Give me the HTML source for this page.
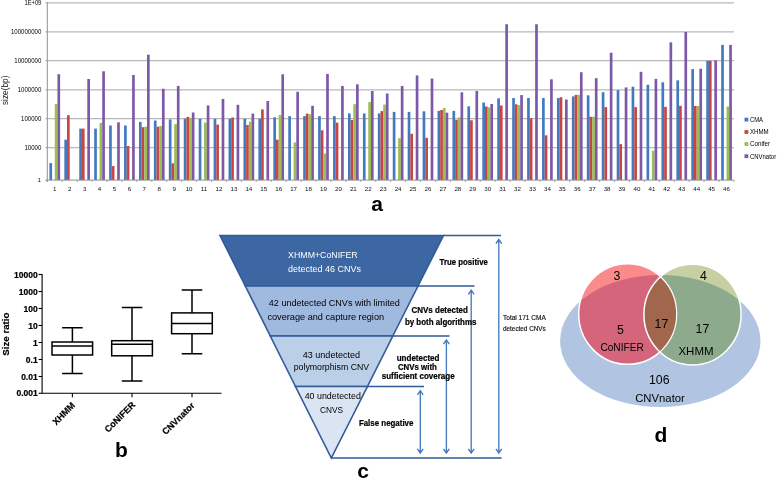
<!DOCTYPE html>
<html><head><meta charset="utf-8"><title>figure</title>
<style>
html,body{margin:0;padding:0;background:#fff;}
body{width:778px;height:479px;overflow:hidden;}
svg{display:block;}
text{font-family:"Liberation Sans",sans-serif;}
.b{font-weight:bold;}
.s{stroke:#000;stroke-width:0.22px;}
</style></head><body>
<svg width="778" height="479" viewBox="0 0 778 479">
<rect width="778" height="479" fill="#fff"/>
<g id="panel-a">
<line x1="45.3" y1="2.8" x2="734.0" y2="2.8" stroke="#b9b9b9" stroke-width="1.25"/>
<text x="24.45" y="5.25" font-size="6.6" fill="#000" textLength="16.9" lengthAdjust="spacingAndGlyphs">1E+09</text>
<line x1="45.3" y1="31.8" x2="734.0" y2="31.8" stroke="#b9b9b9" stroke-width="1.25"/>
<text x="10.97" y="34.25" font-size="6.6" fill="#000" textLength="30.3" lengthAdjust="spacingAndGlyphs">100000000</text>
<line x1="45.3" y1="60.7" x2="734.0" y2="60.7" stroke="#b9b9b9" stroke-width="1.25"/>
<text x="14.34" y="63.150000000000006" font-size="6.6" fill="#000" textLength="27.0" lengthAdjust="spacingAndGlyphs">10000000</text>
<line x1="45.3" y1="89.8" x2="734.0" y2="89.8" stroke="#b9b9b9" stroke-width="1.25"/>
<text x="17.71" y="92.25" font-size="6.6" fill="#000" textLength="23.6" lengthAdjust="spacingAndGlyphs">1000000</text>
<line x1="45.3" y1="118.6" x2="734.0" y2="118.6" stroke="#b9b9b9" stroke-width="1.25"/>
<text x="21.08" y="121.05" font-size="6.6" fill="#000" textLength="20.2" lengthAdjust="spacingAndGlyphs">100000</text>
<line x1="45.3" y1="147.5" x2="734.0" y2="147.5" stroke="#b9b9b9" stroke-width="1.25"/>
<text x="24.45" y="149.95" font-size="6.6" fill="#000" textLength="16.9" lengthAdjust="spacingAndGlyphs">10000</text>
<text x="41" y="182.4" font-size="6.2" text-anchor="end" fill="#111">1</text>
<rect x="49.40" y="163.1" width="2.68" height="17.0" fill="#437ABF"/>
<rect x="54.76" y="104.0" width="2.68" height="76.1" fill="#9CBD52"/>
<rect x="57.44" y="74.2" width="2.68" height="105.9" fill="#7C59A7"/>
<rect x="64.33" y="139.7" width="2.68" height="40.4" fill="#437ABF"/>
<rect x="67.01" y="115.2" width="2.68" height="64.9" fill="#C74643"/>
<rect x="79.26" y="128.6" width="2.68" height="51.5" fill="#437ABF"/>
<rect x="81.94" y="128.6" width="2.68" height="51.5" fill="#C74643"/>
<rect x="87.30" y="79.0" width="2.68" height="101.1" fill="#7C59A7"/>
<rect x="94.19" y="128.6" width="2.68" height="51.5" fill="#437ABF"/>
<rect x="99.55" y="123.0" width="2.68" height="57.1" fill="#9CBD52"/>
<rect x="102.23" y="71.3" width="2.68" height="108.8" fill="#7C59A7"/>
<rect x="109.12" y="125.5" width="2.68" height="54.6" fill="#437ABF"/>
<rect x="111.80" y="166.0" width="2.68" height="14.1" fill="#C74643"/>
<rect x="117.16" y="122.3" width="2.68" height="57.8" fill="#7C59A7"/>
<rect x="124.05" y="125.5" width="2.68" height="54.6" fill="#437ABF"/>
<rect x="126.73" y="146.0" width="2.68" height="34.1" fill="#C74643"/>
<rect x="132.09" y="75.0" width="2.68" height="105.1" fill="#7C59A7"/>
<rect x="138.97" y="121.9" width="2.68" height="58.2" fill="#437ABF"/>
<rect x="141.65" y="127.2" width="2.68" height="52.9" fill="#C74643"/>
<rect x="144.33" y="126.7" width="2.68" height="53.4" fill="#9CBD52"/>
<rect x="147.01" y="54.7" width="2.68" height="125.4" fill="#7C59A7"/>
<rect x="153.90" y="120.5" width="2.68" height="59.6" fill="#437ABF"/>
<rect x="156.58" y="126.7" width="2.68" height="53.4" fill="#C74643"/>
<rect x="159.26" y="126.1" width="2.68" height="54.0" fill="#9CBD52"/>
<rect x="161.94" y="88.8" width="2.68" height="91.3" fill="#7C59A7"/>
<rect x="168.83" y="119.4" width="2.68" height="60.7" fill="#437ABF"/>
<rect x="171.51" y="163.3" width="2.68" height="16.8" fill="#C74643"/>
<rect x="174.19" y="124.2" width="2.68" height="55.9" fill="#9CBD52"/>
<rect x="176.87" y="85.9" width="2.68" height="94.2" fill="#7C59A7"/>
<rect x="183.76" y="118.8" width="2.68" height="61.3" fill="#437ABF"/>
<rect x="186.44" y="116.9" width="2.68" height="63.2" fill="#C74643"/>
<rect x="189.12" y="117.8" width="2.68" height="62.3" fill="#9CBD52"/>
<rect x="191.80" y="112.5" width="2.68" height="67.6" fill="#7C59A7"/>
<rect x="198.69" y="118.8" width="2.68" height="61.3" fill="#437ABF"/>
<rect x="204.05" y="122.6" width="2.68" height="57.5" fill="#9CBD52"/>
<rect x="206.73" y="105.4" width="2.68" height="74.7" fill="#7C59A7"/>
<rect x="213.61" y="118.8" width="2.68" height="61.3" fill="#437ABF"/>
<rect x="216.29" y="124.6" width="2.68" height="55.5" fill="#C74643"/>
<rect x="221.65" y="98.9" width="2.68" height="81.2" fill="#7C59A7"/>
<rect x="228.54" y="118.8" width="2.68" height="61.3" fill="#437ABF"/>
<rect x="231.22" y="117.5" width="2.68" height="62.6" fill="#C74643"/>
<rect x="236.58" y="104.8" width="2.68" height="75.3" fill="#7C59A7"/>
<rect x="243.47" y="118.8" width="2.68" height="61.3" fill="#437ABF"/>
<rect x="246.15" y="125.0" width="2.68" height="55.1" fill="#C74643"/>
<rect x="248.83" y="121.7" width="2.68" height="58.4" fill="#9CBD52"/>
<rect x="251.51" y="113.6" width="2.68" height="66.5" fill="#7C59A7"/>
<rect x="258.40" y="118.8" width="2.68" height="61.3" fill="#437ABF"/>
<rect x="261.08" y="109.4" width="2.68" height="70.7" fill="#C74643"/>
<rect x="266.44" y="101.0" width="2.68" height="79.1" fill="#7C59A7"/>
<rect x="273.33" y="117.3" width="2.68" height="62.8" fill="#437ABF"/>
<rect x="276.01" y="139.7" width="2.68" height="40.4" fill="#C74643"/>
<rect x="278.69" y="115.0" width="2.68" height="65.1" fill="#9CBD52"/>
<rect x="281.37" y="74.3" width="2.68" height="105.8" fill="#7C59A7"/>
<rect x="288.26" y="116.1" width="2.68" height="64.0" fill="#437ABF"/>
<rect x="293.62" y="142.4" width="2.68" height="37.7" fill="#9CBD52"/>
<rect x="296.30" y="91.8" width="2.68" height="88.3" fill="#7C59A7"/>
<rect x="303.18" y="116.1" width="2.68" height="64.0" fill="#437ABF"/>
<rect x="305.86" y="113.6" width="2.68" height="66.5" fill="#C74643"/>
<rect x="308.54" y="114.2" width="2.68" height="65.9" fill="#9CBD52"/>
<rect x="311.22" y="105.8" width="2.68" height="74.3" fill="#7C59A7"/>
<rect x="318.11" y="116.1" width="2.68" height="64.0" fill="#437ABF"/>
<rect x="320.79" y="130.3" width="2.68" height="49.8" fill="#C74643"/>
<rect x="323.47" y="153.5" width="2.68" height="26.6" fill="#9CBD52"/>
<rect x="326.15" y="73.9" width="2.68" height="106.2" fill="#7C59A7"/>
<rect x="333.04" y="116.1" width="2.68" height="64.0" fill="#437ABF"/>
<rect x="335.72" y="122.6" width="2.68" height="57.5" fill="#C74643"/>
<rect x="341.08" y="86.0" width="2.68" height="94.1" fill="#7C59A7"/>
<rect x="347.97" y="113.4" width="2.68" height="66.7" fill="#437ABF"/>
<rect x="350.65" y="120.0" width="2.68" height="60.1" fill="#C74643"/>
<rect x="353.33" y="104.2" width="2.68" height="75.9" fill="#9CBD52"/>
<rect x="356.01" y="84.3" width="2.68" height="95.8" fill="#7C59A7"/>
<rect x="362.90" y="113.4" width="2.68" height="66.7" fill="#437ABF"/>
<rect x="368.26" y="102.1" width="2.68" height="78.0" fill="#9CBD52"/>
<rect x="370.94" y="91.0" width="2.68" height="89.1" fill="#7C59A7"/>
<rect x="377.83" y="113.4" width="2.68" height="66.7" fill="#437ABF"/>
<rect x="380.51" y="111.1" width="2.68" height="69.0" fill="#C74643"/>
<rect x="383.19" y="104.6" width="2.68" height="75.5" fill="#9CBD52"/>
<rect x="385.87" y="93.5" width="2.68" height="86.6" fill="#7C59A7"/>
<rect x="392.75" y="111.9" width="2.68" height="68.2" fill="#437ABF"/>
<rect x="398.11" y="138.2" width="2.68" height="41.9" fill="#9CBD52"/>
<rect x="400.79" y="86.0" width="2.68" height="94.1" fill="#7C59A7"/>
<rect x="407.68" y="111.9" width="2.68" height="68.2" fill="#437ABF"/>
<rect x="410.36" y="133.8" width="2.68" height="46.3" fill="#C74643"/>
<rect x="415.72" y="75.4" width="2.68" height="104.7" fill="#7C59A7"/>
<rect x="422.61" y="111.3" width="2.68" height="68.8" fill="#437ABF"/>
<rect x="425.29" y="137.8" width="2.68" height="42.3" fill="#C74643"/>
<rect x="430.65" y="78.5" width="2.68" height="101.6" fill="#7C59A7"/>
<rect x="437.54" y="110.9" width="2.68" height="69.2" fill="#437ABF"/>
<rect x="440.22" y="110.0" width="2.68" height="70.1" fill="#C74643"/>
<rect x="442.90" y="107.9" width="2.68" height="72.2" fill="#9CBD52"/>
<rect x="445.58" y="112.7" width="2.68" height="67.4" fill="#7C59A7"/>
<rect x="452.47" y="110.9" width="2.68" height="69.2" fill="#437ABF"/>
<rect x="455.15" y="119.8" width="2.68" height="60.3" fill="#C74643"/>
<rect x="457.83" y="117.3" width="2.68" height="62.8" fill="#9CBD52"/>
<rect x="460.51" y="92.3" width="2.68" height="87.8" fill="#7C59A7"/>
<rect x="467.40" y="106.3" width="2.68" height="73.8" fill="#437ABF"/>
<rect x="470.08" y="120.3" width="2.68" height="59.8" fill="#C74643"/>
<rect x="475.44" y="91.0" width="2.68" height="89.1" fill="#7C59A7"/>
<rect x="482.32" y="102.5" width="2.68" height="77.6" fill="#437ABF"/>
<rect x="485.00" y="106.5" width="2.68" height="73.6" fill="#C74643"/>
<rect x="487.68" y="107.3" width="2.68" height="72.8" fill="#9CBD52"/>
<rect x="490.36" y="104.0" width="2.68" height="76.1" fill="#7C59A7"/>
<rect x="497.25" y="98.3" width="2.68" height="81.8" fill="#437ABF"/>
<rect x="499.93" y="105.5" width="2.68" height="74.6" fill="#C74643"/>
<rect x="505.29" y="24.2" width="2.68" height="155.9" fill="#7C59A7"/>
<rect x="512.18" y="98.0" width="2.68" height="82.1" fill="#437ABF"/>
<rect x="514.86" y="104.3" width="2.68" height="75.8" fill="#C74643"/>
<rect x="517.54" y="105.1" width="2.68" height="75.0" fill="#9CBD52"/>
<rect x="520.22" y="95.1" width="2.68" height="85.0" fill="#7C59A7"/>
<rect x="527.11" y="98.0" width="2.68" height="82.1" fill="#437ABF"/>
<rect x="529.79" y="118.3" width="2.68" height="61.8" fill="#C74643"/>
<rect x="535.15" y="24.2" width="2.68" height="155.9" fill="#7C59A7"/>
<rect x="542.04" y="98.0" width="2.68" height="82.1" fill="#437ABF"/>
<rect x="544.72" y="135.3" width="2.68" height="44.8" fill="#C74643"/>
<rect x="550.08" y="79.3" width="2.68" height="100.8" fill="#7C59A7"/>
<rect x="556.97" y="98.0" width="2.68" height="82.1" fill="#437ABF"/>
<rect x="559.64" y="97.2" width="2.68" height="82.9" fill="#C74643"/>
<rect x="565.00" y="99.5" width="2.68" height="80.6" fill="#7C59A7"/>
<rect x="571.89" y="96.4" width="2.68" height="83.7" fill="#437ABF"/>
<rect x="574.57" y="94.9" width="2.68" height="85.2" fill="#C74643"/>
<rect x="577.25" y="94.9" width="2.68" height="85.2" fill="#9CBD52"/>
<rect x="579.93" y="72.2" width="2.68" height="107.9" fill="#7C59A7"/>
<rect x="586.82" y="95.3" width="2.68" height="84.8" fill="#437ABF"/>
<rect x="589.50" y="116.8" width="2.68" height="63.3" fill="#C74643"/>
<rect x="592.18" y="116.8" width="2.68" height="63.3" fill="#9CBD52"/>
<rect x="594.86" y="78.2" width="2.68" height="101.9" fill="#7C59A7"/>
<rect x="601.75" y="92.2" width="2.68" height="87.9" fill="#437ABF"/>
<rect x="604.43" y="107.1" width="2.68" height="73.0" fill="#C74643"/>
<rect x="609.79" y="52.7" width="2.68" height="127.4" fill="#7C59A7"/>
<rect x="616.68" y="90.1" width="2.68" height="90.0" fill="#437ABF"/>
<rect x="619.36" y="144.1" width="2.68" height="36.0" fill="#C74643"/>
<rect x="624.72" y="87.4" width="2.68" height="92.7" fill="#7C59A7"/>
<rect x="631.61" y="86.7" width="2.68" height="93.4" fill="#437ABF"/>
<rect x="634.29" y="107.1" width="2.68" height="73.0" fill="#C74643"/>
<rect x="639.65" y="71.8" width="2.68" height="108.3" fill="#7C59A7"/>
<rect x="646.53" y="84.8" width="2.68" height="95.3" fill="#437ABF"/>
<rect x="651.89" y="150.7" width="2.68" height="29.4" fill="#9CBD52"/>
<rect x="654.57" y="78.9" width="2.68" height="101.2" fill="#7C59A7"/>
<rect x="661.46" y="82.3" width="2.68" height="97.8" fill="#437ABF"/>
<rect x="664.14" y="106.9" width="2.68" height="73.2" fill="#C74643"/>
<rect x="669.50" y="42.4" width="2.68" height="137.7" fill="#7C59A7"/>
<rect x="676.39" y="80.4" width="2.68" height="99.7" fill="#437ABF"/>
<rect x="679.07" y="105.8" width="2.68" height="74.3" fill="#C74643"/>
<rect x="684.43" y="31.9" width="2.68" height="148.2" fill="#7C59A7"/>
<rect x="691.32" y="69.1" width="2.68" height="111.0" fill="#437ABF"/>
<rect x="694.00" y="106.0" width="2.68" height="74.1" fill="#C74643"/>
<rect x="696.68" y="106.0" width="2.68" height="74.1" fill="#9CBD52"/>
<rect x="699.36" y="68.7" width="2.68" height="111.4" fill="#7C59A7"/>
<rect x="706.25" y="60.8" width="2.68" height="119.3" fill="#437ABF"/>
<rect x="708.93" y="60.8" width="2.68" height="119.3" fill="#C74643"/>
<rect x="714.29" y="60.3" width="2.68" height="119.8" fill="#7C59A7"/>
<rect x="721.18" y="44.9" width="2.68" height="135.2" fill="#437ABF"/>
<rect x="726.54" y="106.5" width="2.68" height="73.6" fill="#9CBD52"/>
<rect x="729.22" y="44.9" width="2.68" height="135.2" fill="#7C59A7"/>
<line x1="47.3" y1="2.3" x2="47.3" y2="181.9" stroke="#909090" stroke-width="1"/>
<line x1="45.3" y1="180.1" x2="734.0" y2="180.1" stroke="#909090" stroke-width="1"/>
<line x1="47.30" y1="180.1" x2="47.30" y2="182.0" stroke="#8c8c8c" stroke-width="0.8"/>
<line x1="62.23" y1="180.1" x2="62.23" y2="182.0" stroke="#8c8c8c" stroke-width="0.8"/>
<line x1="77.16" y1="180.1" x2="77.16" y2="182.0" stroke="#8c8c8c" stroke-width="0.8"/>
<line x1="92.08" y1="180.1" x2="92.08" y2="182.0" stroke="#8c8c8c" stroke-width="0.8"/>
<line x1="107.01" y1="180.1" x2="107.01" y2="182.0" stroke="#8c8c8c" stroke-width="0.8"/>
<line x1="121.94" y1="180.1" x2="121.94" y2="182.0" stroke="#8c8c8c" stroke-width="0.8"/>
<line x1="136.87" y1="180.1" x2="136.87" y2="182.0" stroke="#8c8c8c" stroke-width="0.8"/>
<line x1="151.80" y1="180.1" x2="151.80" y2="182.0" stroke="#8c8c8c" stroke-width="0.8"/>
<line x1="166.73" y1="180.1" x2="166.73" y2="182.0" stroke="#8c8c8c" stroke-width="0.8"/>
<line x1="181.65" y1="180.1" x2="181.65" y2="182.0" stroke="#8c8c8c" stroke-width="0.8"/>
<line x1="196.58" y1="180.1" x2="196.58" y2="182.0" stroke="#8c8c8c" stroke-width="0.8"/>
<line x1="211.51" y1="180.1" x2="211.51" y2="182.0" stroke="#8c8c8c" stroke-width="0.8"/>
<line x1="226.44" y1="180.1" x2="226.44" y2="182.0" stroke="#8c8c8c" stroke-width="0.8"/>
<line x1="241.37" y1="180.1" x2="241.37" y2="182.0" stroke="#8c8c8c" stroke-width="0.8"/>
<line x1="256.30" y1="180.1" x2="256.30" y2="182.0" stroke="#8c8c8c" stroke-width="0.8"/>
<line x1="271.22" y1="180.1" x2="271.22" y2="182.0" stroke="#8c8c8c" stroke-width="0.8"/>
<line x1="286.15" y1="180.1" x2="286.15" y2="182.0" stroke="#8c8c8c" stroke-width="0.8"/>
<line x1="301.08" y1="180.1" x2="301.08" y2="182.0" stroke="#8c8c8c" stroke-width="0.8"/>
<line x1="316.01" y1="180.1" x2="316.01" y2="182.0" stroke="#8c8c8c" stroke-width="0.8"/>
<line x1="330.94" y1="180.1" x2="330.94" y2="182.0" stroke="#8c8c8c" stroke-width="0.8"/>
<line x1="345.87" y1="180.1" x2="345.87" y2="182.0" stroke="#8c8c8c" stroke-width="0.8"/>
<line x1="360.79" y1="180.1" x2="360.79" y2="182.0" stroke="#8c8c8c" stroke-width="0.8"/>
<line x1="375.72" y1="180.1" x2="375.72" y2="182.0" stroke="#8c8c8c" stroke-width="0.8"/>
<line x1="390.65" y1="180.1" x2="390.65" y2="182.0" stroke="#8c8c8c" stroke-width="0.8"/>
<line x1="405.58" y1="180.1" x2="405.58" y2="182.0" stroke="#8c8c8c" stroke-width="0.8"/>
<line x1="420.51" y1="180.1" x2="420.51" y2="182.0" stroke="#8c8c8c" stroke-width="0.8"/>
<line x1="435.43" y1="180.1" x2="435.43" y2="182.0" stroke="#8c8c8c" stroke-width="0.8"/>
<line x1="450.36" y1="180.1" x2="450.36" y2="182.0" stroke="#8c8c8c" stroke-width="0.8"/>
<line x1="465.29" y1="180.1" x2="465.29" y2="182.0" stroke="#8c8c8c" stroke-width="0.8"/>
<line x1="480.22" y1="180.1" x2="480.22" y2="182.0" stroke="#8c8c8c" stroke-width="0.8"/>
<line x1="495.15" y1="180.1" x2="495.15" y2="182.0" stroke="#8c8c8c" stroke-width="0.8"/>
<line x1="510.08" y1="180.1" x2="510.08" y2="182.0" stroke="#8c8c8c" stroke-width="0.8"/>
<line x1="525.00" y1="180.1" x2="525.00" y2="182.0" stroke="#8c8c8c" stroke-width="0.8"/>
<line x1="539.93" y1="180.1" x2="539.93" y2="182.0" stroke="#8c8c8c" stroke-width="0.8"/>
<line x1="554.86" y1="180.1" x2="554.86" y2="182.0" stroke="#8c8c8c" stroke-width="0.8"/>
<line x1="569.79" y1="180.1" x2="569.79" y2="182.0" stroke="#8c8c8c" stroke-width="0.8"/>
<line x1="584.72" y1="180.1" x2="584.72" y2="182.0" stroke="#8c8c8c" stroke-width="0.8"/>
<line x1="599.65" y1="180.1" x2="599.65" y2="182.0" stroke="#8c8c8c" stroke-width="0.8"/>
<line x1="614.57" y1="180.1" x2="614.57" y2="182.0" stroke="#8c8c8c" stroke-width="0.8"/>
<line x1="629.50" y1="180.1" x2="629.50" y2="182.0" stroke="#8c8c8c" stroke-width="0.8"/>
<line x1="644.43" y1="180.1" x2="644.43" y2="182.0" stroke="#8c8c8c" stroke-width="0.8"/>
<line x1="659.36" y1="180.1" x2="659.36" y2="182.0" stroke="#8c8c8c" stroke-width="0.8"/>
<line x1="674.29" y1="180.1" x2="674.29" y2="182.0" stroke="#8c8c8c" stroke-width="0.8"/>
<line x1="689.22" y1="180.1" x2="689.22" y2="182.0" stroke="#8c8c8c" stroke-width="0.8"/>
<line x1="704.14" y1="180.1" x2="704.14" y2="182.0" stroke="#8c8c8c" stroke-width="0.8"/>
<line x1="719.07" y1="180.1" x2="719.07" y2="182.0" stroke="#8c8c8c" stroke-width="0.8"/>
<line x1="734.00" y1="180.1" x2="734.00" y2="182.0" stroke="#8c8c8c" stroke-width="0.8"/>
<text x="54.76" y="191.4" font-size="6.2" text-anchor="middle" fill="#111">1</text>
<text x="69.69" y="191.4" font-size="6.2" text-anchor="middle" fill="#111">2</text>
<text x="84.62" y="191.4" font-size="6.2" text-anchor="middle" fill="#111">3</text>
<text x="99.55" y="191.4" font-size="6.2" text-anchor="middle" fill="#111">4</text>
<text x="114.48" y="191.4" font-size="6.2" text-anchor="middle" fill="#111">5</text>
<text x="129.41" y="191.4" font-size="6.2" text-anchor="middle" fill="#111">6</text>
<text x="144.33" y="191.4" font-size="6.2" text-anchor="middle" fill="#111">7</text>
<text x="159.26" y="191.4" font-size="6.2" text-anchor="middle" fill="#111">8</text>
<text x="174.19" y="191.4" font-size="6.2" text-anchor="middle" fill="#111">9</text>
<text x="189.12" y="191.4" font-size="6.2" text-anchor="middle" fill="#111">10</text>
<text x="204.05" y="191.4" font-size="6.2" text-anchor="middle" fill="#111">11</text>
<text x="218.98" y="191.4" font-size="6.2" text-anchor="middle" fill="#111">12</text>
<text x="233.90" y="191.4" font-size="6.2" text-anchor="middle" fill="#111">13</text>
<text x="248.83" y="191.4" font-size="6.2" text-anchor="middle" fill="#111">14</text>
<text x="263.76" y="191.4" font-size="6.2" text-anchor="middle" fill="#111">15</text>
<text x="278.69" y="191.4" font-size="6.2" text-anchor="middle" fill="#111">16</text>
<text x="293.62" y="191.4" font-size="6.2" text-anchor="middle" fill="#111">17</text>
<text x="308.54" y="191.4" font-size="6.2" text-anchor="middle" fill="#111">18</text>
<text x="323.47" y="191.4" font-size="6.2" text-anchor="middle" fill="#111">19</text>
<text x="338.40" y="191.4" font-size="6.2" text-anchor="middle" fill="#111">20</text>
<text x="353.33" y="191.4" font-size="6.2" text-anchor="middle" fill="#111">21</text>
<text x="368.26" y="191.4" font-size="6.2" text-anchor="middle" fill="#111">22</text>
<text x="383.19" y="191.4" font-size="6.2" text-anchor="middle" fill="#111">23</text>
<text x="398.11" y="191.4" font-size="6.2" text-anchor="middle" fill="#111">24</text>
<text x="413.04" y="191.4" font-size="6.2" text-anchor="middle" fill="#111">25</text>
<text x="427.97" y="191.4" font-size="6.2" text-anchor="middle" fill="#111">26</text>
<text x="442.90" y="191.4" font-size="6.2" text-anchor="middle" fill="#111">27</text>
<text x="457.83" y="191.4" font-size="6.2" text-anchor="middle" fill="#111">28</text>
<text x="472.76" y="191.4" font-size="6.2" text-anchor="middle" fill="#111">29</text>
<text x="487.68" y="191.4" font-size="6.2" text-anchor="middle" fill="#111">30</text>
<text x="502.61" y="191.4" font-size="6.2" text-anchor="middle" fill="#111">31</text>
<text x="517.54" y="191.4" font-size="6.2" text-anchor="middle" fill="#111">32</text>
<text x="532.47" y="191.4" font-size="6.2" text-anchor="middle" fill="#111">33</text>
<text x="547.40" y="191.4" font-size="6.2" text-anchor="middle" fill="#111">34</text>
<text x="562.32" y="191.4" font-size="6.2" text-anchor="middle" fill="#111">35</text>
<text x="577.25" y="191.4" font-size="6.2" text-anchor="middle" fill="#111">36</text>
<text x="592.18" y="191.4" font-size="6.2" text-anchor="middle" fill="#111">37</text>
<text x="607.11" y="191.4" font-size="6.2" text-anchor="middle" fill="#111">38</text>
<text x="622.04" y="191.4" font-size="6.2" text-anchor="middle" fill="#111">39</text>
<text x="636.97" y="191.4" font-size="6.2" text-anchor="middle" fill="#111">40</text>
<text x="651.89" y="191.4" font-size="6.2" text-anchor="middle" fill="#111">41</text>
<text x="666.82" y="191.4" font-size="6.2" text-anchor="middle" fill="#111">42</text>
<text x="681.75" y="191.4" font-size="6.2" text-anchor="middle" fill="#111">43</text>
<text x="696.68" y="191.4" font-size="6.2" text-anchor="middle" fill="#111">44</text>
<text x="711.61" y="191.4" font-size="6.2" text-anchor="middle" fill="#111">45</text>
<text x="726.54" y="191.4" font-size="6.2" text-anchor="middle" fill="#111">46</text>
<text transform="translate(8.3,90.3) rotate(-90)" font-size="8.3" text-anchor="middle" fill="#111">size(bp)</text>
<rect x="744.5" y="117.69999999999999" width="3.8" height="3.8" fill="#437ABF"/>
<text x="749.9" y="121.89999999999999" font-size="6.7" fill="#000" textLength="13.1" lengthAdjust="spacingAndGlyphs">CMA</text>
<rect x="744.5" y="130.1" width="3.8" height="3.8" fill="#C74643"/>
<text x="749.9" y="134.3" font-size="6.7" fill="#000" textLength="18.7" lengthAdjust="spacingAndGlyphs">XHMM</text>
<rect x="744.5" y="142.1" width="3.8" height="3.8" fill="#9CBD52"/>
<text x="749.9" y="146.3" font-size="6.7" fill="#000" textLength="20.2" lengthAdjust="spacingAndGlyphs">Conifer</text>
<rect x="744.5" y="154.29999999999998" width="3.8" height="3.8" fill="#7C59A7"/>
<text x="749.9" y="158.5" font-size="6.7" fill="#000" textLength="26.3" lengthAdjust="spacingAndGlyphs">CNVnator</text>
<text class="b" x="377.2" y="211" font-size="21" text-anchor="middle">a</text>
</g>
<g id="panel-b" stroke-linecap="butt">
<path d="M42.1 273.9 V393.2 H221.5" fill="none" stroke="#000" stroke-width="1.1"/>
<line x1="38.6" y1="274.5" x2="42.1" y2="274.5" stroke="#000" stroke-width="1.1"/>
<text class="b s" x="37.7" y="277.55" font-size="8.5" text-anchor="end">10000</text>
<line x1="38.6" y1="291.5" x2="42.1" y2="291.5" stroke="#000" stroke-width="1.1"/>
<text class="b s" x="37.7" y="294.55" font-size="8.5" text-anchor="end">1000</text>
<line x1="38.6" y1="308.5" x2="42.1" y2="308.5" stroke="#000" stroke-width="1.1"/>
<text class="b s" x="37.7" y="311.55" font-size="8.5" text-anchor="end">100</text>
<line x1="38.6" y1="325.5" x2="42.1" y2="325.5" stroke="#000" stroke-width="1.1"/>
<text class="b s" x="37.7" y="328.55" font-size="8.5" text-anchor="end">10</text>
<line x1="38.6" y1="342.5" x2="42.1" y2="342.5" stroke="#000" stroke-width="1.1"/>
<text class="b s" x="37.7" y="345.55" font-size="8.5" text-anchor="end">1</text>
<line x1="38.6" y1="359.5" x2="42.1" y2="359.5" stroke="#000" stroke-width="1.1"/>
<text class="b s" x="37.7" y="362.55" font-size="8.5" text-anchor="end">0.1</text>
<line x1="38.6" y1="376.5" x2="42.1" y2="376.5" stroke="#000" stroke-width="1.1"/>
<text class="b s" x="37.7" y="379.55" font-size="8.5" text-anchor="end">0.01</text>
<line x1="38.6" y1="393.3" x2="42.1" y2="393.3" stroke="#000" stroke-width="1.1"/>
<text class="b s" x="37.7" y="396.35" font-size="8.5" text-anchor="end">0.001</text>
<line x1="72.4" y1="393.2" x2="72.4" y2="397.2" stroke="#000" stroke-width="1.1"/>
<line x1="132" y1="393.2" x2="132" y2="397.2" stroke="#000" stroke-width="1.1"/>
<line x1="192" y1="393.2" x2="192" y2="397.2" stroke="#000" stroke-width="1.1"/>
<g stroke="#000" stroke-width="1.5" fill="none"><path d="M72.4 327.8 V342 M72.4 355 V373.6 M62.1 327.8 H82.7 M62.1 373.6 H82.7 M52.0 346 H92.6"/><rect x="52.0" y="342" width="40.6" height="13.0" fill="#fff"/><path d="M52.0 346 H92.6"/></g>
<g stroke="#000" stroke-width="1.5" fill="none"><path d="M132 307.5 V340.7 M132 355.8 V381 M121.8 307.5 H142.3 M121.8 381 H142.3 M111.7 344.3 H152.4"/><rect x="111.7" y="340.7" width="40.7" height="15.1" fill="#fff"/><path d="M111.7 344.3 H152.4"/></g>
<g stroke="#000" stroke-width="1.5" fill="none"><path d="M192 290 V312.9 M192 333.7 V353.8 M181.7 290 H202.3 M181.7 353.8 H202.3 M171.6 323.4 H212.3"/><rect x="171.6" y="312.9" width="40.7" height="20.8" fill="#fff"/><path d="M171.6 323.4 H212.3"/></g>
<text class="b s" transform="translate(75.6,406) rotate(-45)" font-size="9" text-anchor="end">XHMM</text>
<text class="b s" transform="translate(135.8,405.3) rotate(-45)" font-size="9" text-anchor="end">CoNIFER</text>
<text class="b s" transform="translate(195.2,406) rotate(-45)" font-size="9" text-anchor="end">CNVnator</text>
<text class="b s" transform="translate(8.7,334.1) rotate(-90)" font-size="9.7" text-anchor="middle">Size ratio</text>
<text class="b" x="121.3" y="457" font-size="21" text-anchor="middle">b</text>
</g>
<g id="panel-c">
<polygon points="220.0,235.5 443.5,235.5 418.0,286.0 245.3,286.0" fill="#3C67A3" stroke="#315B98" stroke-width="1.6" stroke-linejoin="miter"/>
<polygon points="245.3,286.0 418.0,286.0 392.8,336.0 270.3,336.0" fill="#9FB9DF" stroke="#315B98" stroke-width="1.6" stroke-linejoin="miter"/>
<polygon points="270.3,336.0 392.8,336.0 367.4,386.5 295.5,386.5" fill="#BCCFE9" stroke="#315B98" stroke-width="1.6" stroke-linejoin="miter"/>
<polygon points="295.5,386.5 367.4,386.5 331.3,458.0 331.3,458.0" fill="#DAE4F2" stroke="#315B98" stroke-width="1.6" stroke-linejoin="miter"/>
<path d="M443.5 235.5 H501 M418.0 286.0 H474.5 M392.8 336.0 H449.5 M367.4 386.5 H424 M331.3 458 H501.6" stroke="#315B98" stroke-width="1.5" fill="none"/>
<path d="M420.3 390.6 V453 M417.40000000000003 394.8 L420.3 390.6 L423.2 394.8 M417.40000000000003 448.8 L420.3 453 L423.2 448.8" stroke="#457ABD" stroke-width="1.35" fill="none"/>
<path d="M446.4 340.0 V453 M443.5 344.2 L446.4 340.0 L449.29999999999995 344.2 M443.5 448.8 L446.4 453 L449.29999999999995 448.8" stroke="#457ABD" stroke-width="1.35" fill="none"/>
<path d="M471.2 290.1 V453 M468.3 294.3 L471.2 290.1 L474.09999999999997 294.3 M468.3 448.8 L471.2 453 L474.09999999999997 448.8" stroke="#457ABD" stroke-width="1.35" fill="none"/>
<path d="M498.8 239.4 V453 M495.90000000000003 243.6 L498.8 239.4 L501.7 243.6 M495.90000000000003 448.8 L498.8 453 L501.7 448.8" stroke="#457ABD" stroke-width="1.35" fill="none"/>
<text x="288.1" y="257.6" font-size="9.5" fill="#fff" textLength="69.6" lengthAdjust="spacingAndGlyphs">XHMM+CoNIFER</text>
<text x="288.1" y="271.6" font-size="9.5" fill="#fff" textLength="72.8" lengthAdjust="spacingAndGlyphs">detected 46 CNVs</text>
<text x="268.8" y="306.4" font-size="9.6" fill="#000" textLength="131" lengthAdjust="spacingAndGlyphs">42 undetected CNVs with limited</text>
<text x="267.4" y="320.4" font-size="9.6" fill="#000" textLength="116.7" lengthAdjust="spacingAndGlyphs">coverage and capture region</text>
<text x="302.7" y="358.2" font-size="9.6" fill="#000" textLength="57.4" lengthAdjust="spacingAndGlyphs">43 undetected</text>
<text x="293.7" y="370.4" font-size="9.6" fill="#000" textLength="75.5" lengthAdjust="spacingAndGlyphs">polymorphism CNV</text>
<text x="304.7" y="399.2" font-size="9.6" fill="#000" textLength="56.2" lengthAdjust="spacingAndGlyphs">40 undetected</text>
<text x="320" y="413.1" font-size="9.6" fill="#000" textLength="23" lengthAdjust="spacingAndGlyphs">CNVS</text>
<text class="b s" x="439.6" y="264.8" font-size="8.5" textLength="48.3" lengthAdjust="spacingAndGlyphs">True positive</text>
<text class="b s" x="411.5" y="313.0" font-size="8.5" textLength="56.4" lengthAdjust="spacingAndGlyphs">CNVs detected</text>
<text class="b s" x="404.9" y="324.5" font-size="8.5" textLength="71.5" lengthAdjust="spacingAndGlyphs">by both algorithms</text>
<text class="b s" x="396.7" y="360.8" font-size="8.5" textLength="42.8" lengthAdjust="spacingAndGlyphs">undetected</text>
<text class="b s" x="397.9" y="369.7" font-size="8.5" textLength="39.0" lengthAdjust="spacingAndGlyphs">CNVs with</text>
<text class="b s" x="381.7" y="378.6" font-size="8.5" textLength="72.9" lengthAdjust="spacingAndGlyphs">sufficient coverage</text>
<text class="b s" x="358.9" y="426.0" font-size="8.5" textLength="54.5" lengthAdjust="spacingAndGlyphs">False negative</text>
<text x="503" y="319.7" font-size="6.4" fill="#111" stroke="#111" stroke-width="0.15" textLength="42.8" lengthAdjust="spacingAndGlyphs">Total 171 CMA</text>
<text x="503" y="330.5" font-size="6.4" fill="#111" stroke="#111" stroke-width="0.15" textLength="42.8" lengthAdjust="spacingAndGlyphs">detected CNVs</text>
<text class="b" x="363.1" y="477.6" font-size="21" text-anchor="middle">c</text>
</g>
<g id="panel-d">
<defs><clipPath id="ce"><ellipse cx="660.3" cy="341" rx="100.2" ry="66"/></clipPath><clipPath id="cr"><ellipse cx="627.7" cy="314.05" rx="49" ry="50.3"/></clipPath><clipPath id="cg"><ellipse cx="692.5" cy="314.6" rx="48.6" ry="50.3"/></clipPath></defs>
<ellipse cx="660.3" cy="341" rx="100.2" ry="66" fill="#B1C5E3"/>
<ellipse cx="627.7" cy="314.05" rx="49" ry="50.3" fill="#FA8A8C"/>
<ellipse cx="627.7" cy="314.05" rx="49" ry="50.3" fill="#D5657B" clip-path="url(#ce)"/>
<ellipse cx="627.7" cy="314.05" rx="49" ry="50.3" fill="none" stroke="#fff" stroke-width="1.5"/>
<ellipse cx="692.5" cy="314.6" rx="48.6" ry="50.3" fill="#C6D0A2"/>
<ellipse cx="692.5" cy="314.6" rx="48.6" ry="50.3" fill="#8DAA8C" clip-path="url(#ce)"/>
<g clip-path="url(#cr)"><ellipse cx="692.5" cy="314.6" rx="48.6" ry="50.3" fill="#B07A5A"/><ellipse cx="692.5" cy="314.6" rx="48.6" ry="50.3" fill="#A0674C" clip-path="url(#ce)"/></g>
<ellipse cx="692.5" cy="314.6" rx="48.6" ry="50.3" fill="none" stroke="#fff" stroke-width="1.5"/>
<ellipse cx="627.7" cy="314.05" rx="49" ry="50.3" fill="none" stroke="#fff" stroke-width="1.2" clip-path="url(#cg)"/>
<text x="616.8" y="279.6" font-size="12.3" text-anchor="middle" fill="#000">3</text>
<text x="703.3" y="279.6" font-size="12.3" text-anchor="middle" fill="#000">4</text>
<text x="620.3" y="334.0" font-size="12.3" text-anchor="middle" fill="#000">5</text>
<text x="661.4" y="328.1" font-size="12.3" text-anchor="middle" fill="#000">17</text>
<text x="702.4" y="332.5" font-size="12.3" text-anchor="middle" fill="#000">17</text>
<text x="659.3" y="384.0" font-size="12.3" text-anchor="middle" fill="#000">106</text>
<text x="622.1" y="350.8" font-size="11" text-anchor="middle" fill="#000" textLength="43.4" lengthAdjust="spacingAndGlyphs">CoNIFER</text>
<text x="696" y="355.2" font-size="11" text-anchor="middle" fill="#000" textLength="35.1" lengthAdjust="spacingAndGlyphs">XHMM</text>
<text x="660" y="402.4" font-size="11" text-anchor="middle" fill="#000" textLength="49.7" lengthAdjust="spacingAndGlyphs">CNVnator</text>
<text class="b" x="660.9" y="442" font-size="21" text-anchor="middle">d</text>
</g>
</svg>
</body></html>
